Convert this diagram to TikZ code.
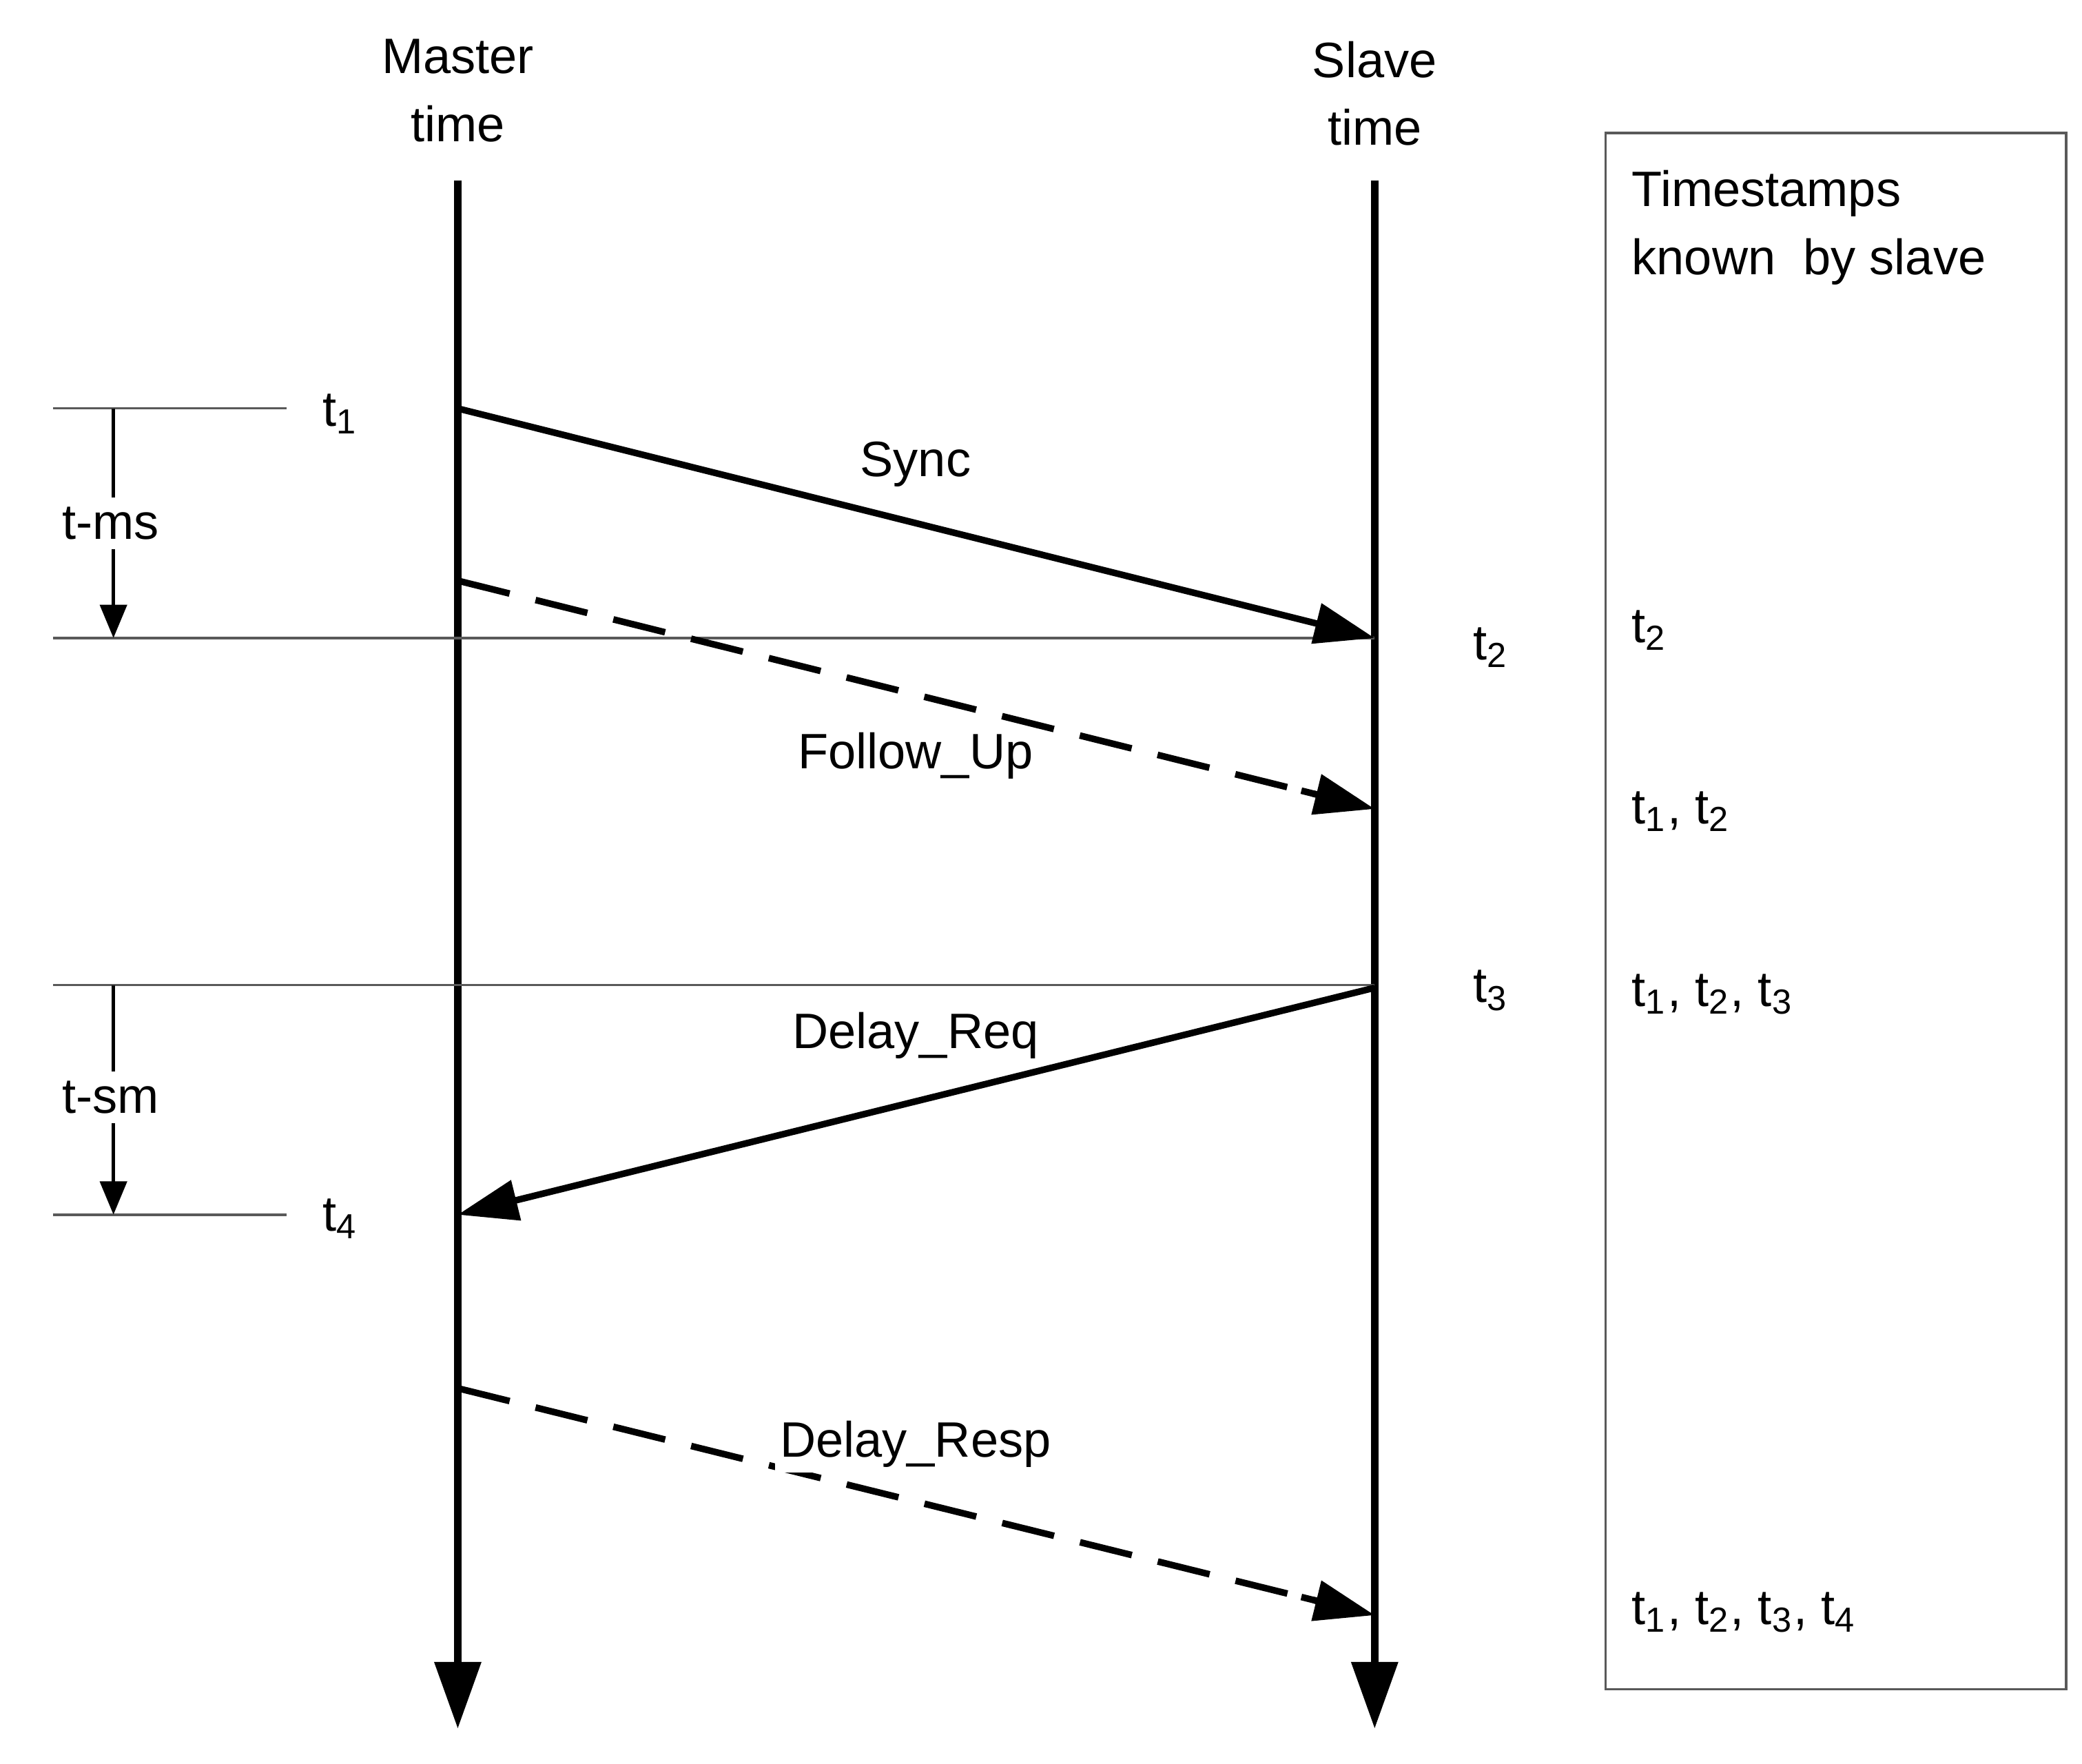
\documentclass[tikz,border=0pt]{standalone}
\usepackage{fontspec}
\setmainfont{Liberation Sans}
\usetikzlibrary{arrows.meta,calc}
\begin{document}
\begin{tikzpicture}[x=0.01cm,y=-0.01cm,
  txt/.style={inner sep=0pt,font=\fontsize{10.6}{14.5}\selectfont},
  thin/.style={line width=0.5pt,gray!70!black},
  msg/.style={line width=1.4pt,-{Triangle[length=0.45cm,width=0.3cm]}},
  dsh/.style={line width=1.4pt,dash pattern=on 0.4cm off 0.2cm},
  tl/.style={line width=1.6pt,-{Triangle[length=0.5cm,width=0.34cm]}},
  sm/.style={line width=0.8pt,-{Triangle[length=0.25cm,width=0.2cm]}}]
\useasboundingbox (0,0) rectangle (1560,1321);
% time lines
\coordinate (m0) at (343,135); \coordinate (m1) at (343,1295);
\coordinate (s0) at (1030,135); \coordinate (s1) at (1030,1295);
\draw[tl] (m0) -- (m1);
\draw[tl] (s0) -- (s1);
\node[txt,align=center] (mlab) at (343,68) {Master\\time};
\node[txt,align=center] (slab) at (1030,70) {Slave\\time};
% box
\node[draw,thin,minimum width=3.45cm,minimum height=11.65cm,inner sep=0pt] (box) at (1375.5,682.5) {};
\node[txt,align=left,anchor=north west] (bt) at (1222,127) {Timestamps\\known\ \ by slave};
% horizontal guides
\coordinate (h1a) at (40,306); \coordinate (h1b) at (215,306);
\coordinate (h2a) at (40,478); \coordinate (h2b) at (1030,478);
\coordinate (h3a) at (40,738); \coordinate (h3b) at (1030,738);
\coordinate (h4a) at (40,910); \coordinate (h4b) at (215,910);
\draw[thin] (h1a) -- (h1b); \draw[thin] (h2a) -- (h2b);
\draw[thin] (h3a) -- (h3b); \draw[thin] (h4a) -- (h4b);
% t-ms, t-sm
\coordinate (v1a) at (85,306); \coordinate (v1b) at (85,478);
\coordinate (v2a) at (85,738); \coordinate (v2b) at (85,910);
\draw[sm] (v1a) -- (v1b); \draw[sm] (v2a) -- (v2b);
\node[txt,fill=white,inner sep=2pt] (tms) at (83,392) {t-ms};
\node[txt,fill=white,inner sep=2pt] (tsm) at (83,822) {t-sm};
% messages
\coordinate (a1) at (343,306); \coordinate (b1) at (1030,478);
\coordinate (a2) at (343,435); \coordinate (b2) at (1030,606);
\coordinate (a3) at (1030,740); \coordinate (b3) at (343,910);
\coordinate (a4) at (343,1040); \coordinate (b4) at (1030,1210);
\draw[msg] (a1) -- (b1);
\draw[dsh,shorten >=0.3cm] (a2) -- (b2);
\draw[msg] ($(a2)!0.92!(b2)$) -- (b2);
\draw[msg] (a3) -- (b3);
\draw[dsh,shorten >=0.3cm] (a4) -- (b4);
\draw[msg] ($(a4)!0.92!(b4)$) -- (b4);
\node[txt] (sync) at (686,348) {Sync};
\node[txt] (fu) at (686,566) {Follow\_Up};
\node[txt] (dr) at (686,776) {Delay\_Req};
\node[txt,fill=white,inner sep=1pt] (dresp) at (686,1082) {Delay\_Resp};
% timestamps
\node[txt] (t1) at (255,310) {t\textsubscript{1}};
\node[txt] (t2) at (1117,485) {t\textsubscript{2}};
\node[txt] (t3) at (1117,742) {t\textsubscript{3}};
\node[txt] (t4) at (255,913) {t\textsubscript{4}};
\node[txt,anchor=west] (k1) at (1222,472) {t\textsubscript{2}};
\node[txt,anchor=west] (k2) at (1222,608) {t\textsubscript{1}, t\textsubscript{2}};
\node[txt,anchor=west] (k3) at (1222,745) {t\textsubscript{1}, t\textsubscript{2}, t\textsubscript{3}};
\node[txt,anchor=west] (k4) at (1222,1208) {t\textsubscript{1}, t\textsubscript{2}, t\textsubscript{3}, t\textsubscript{4}};
\end{tikzpicture}
\end{document}
